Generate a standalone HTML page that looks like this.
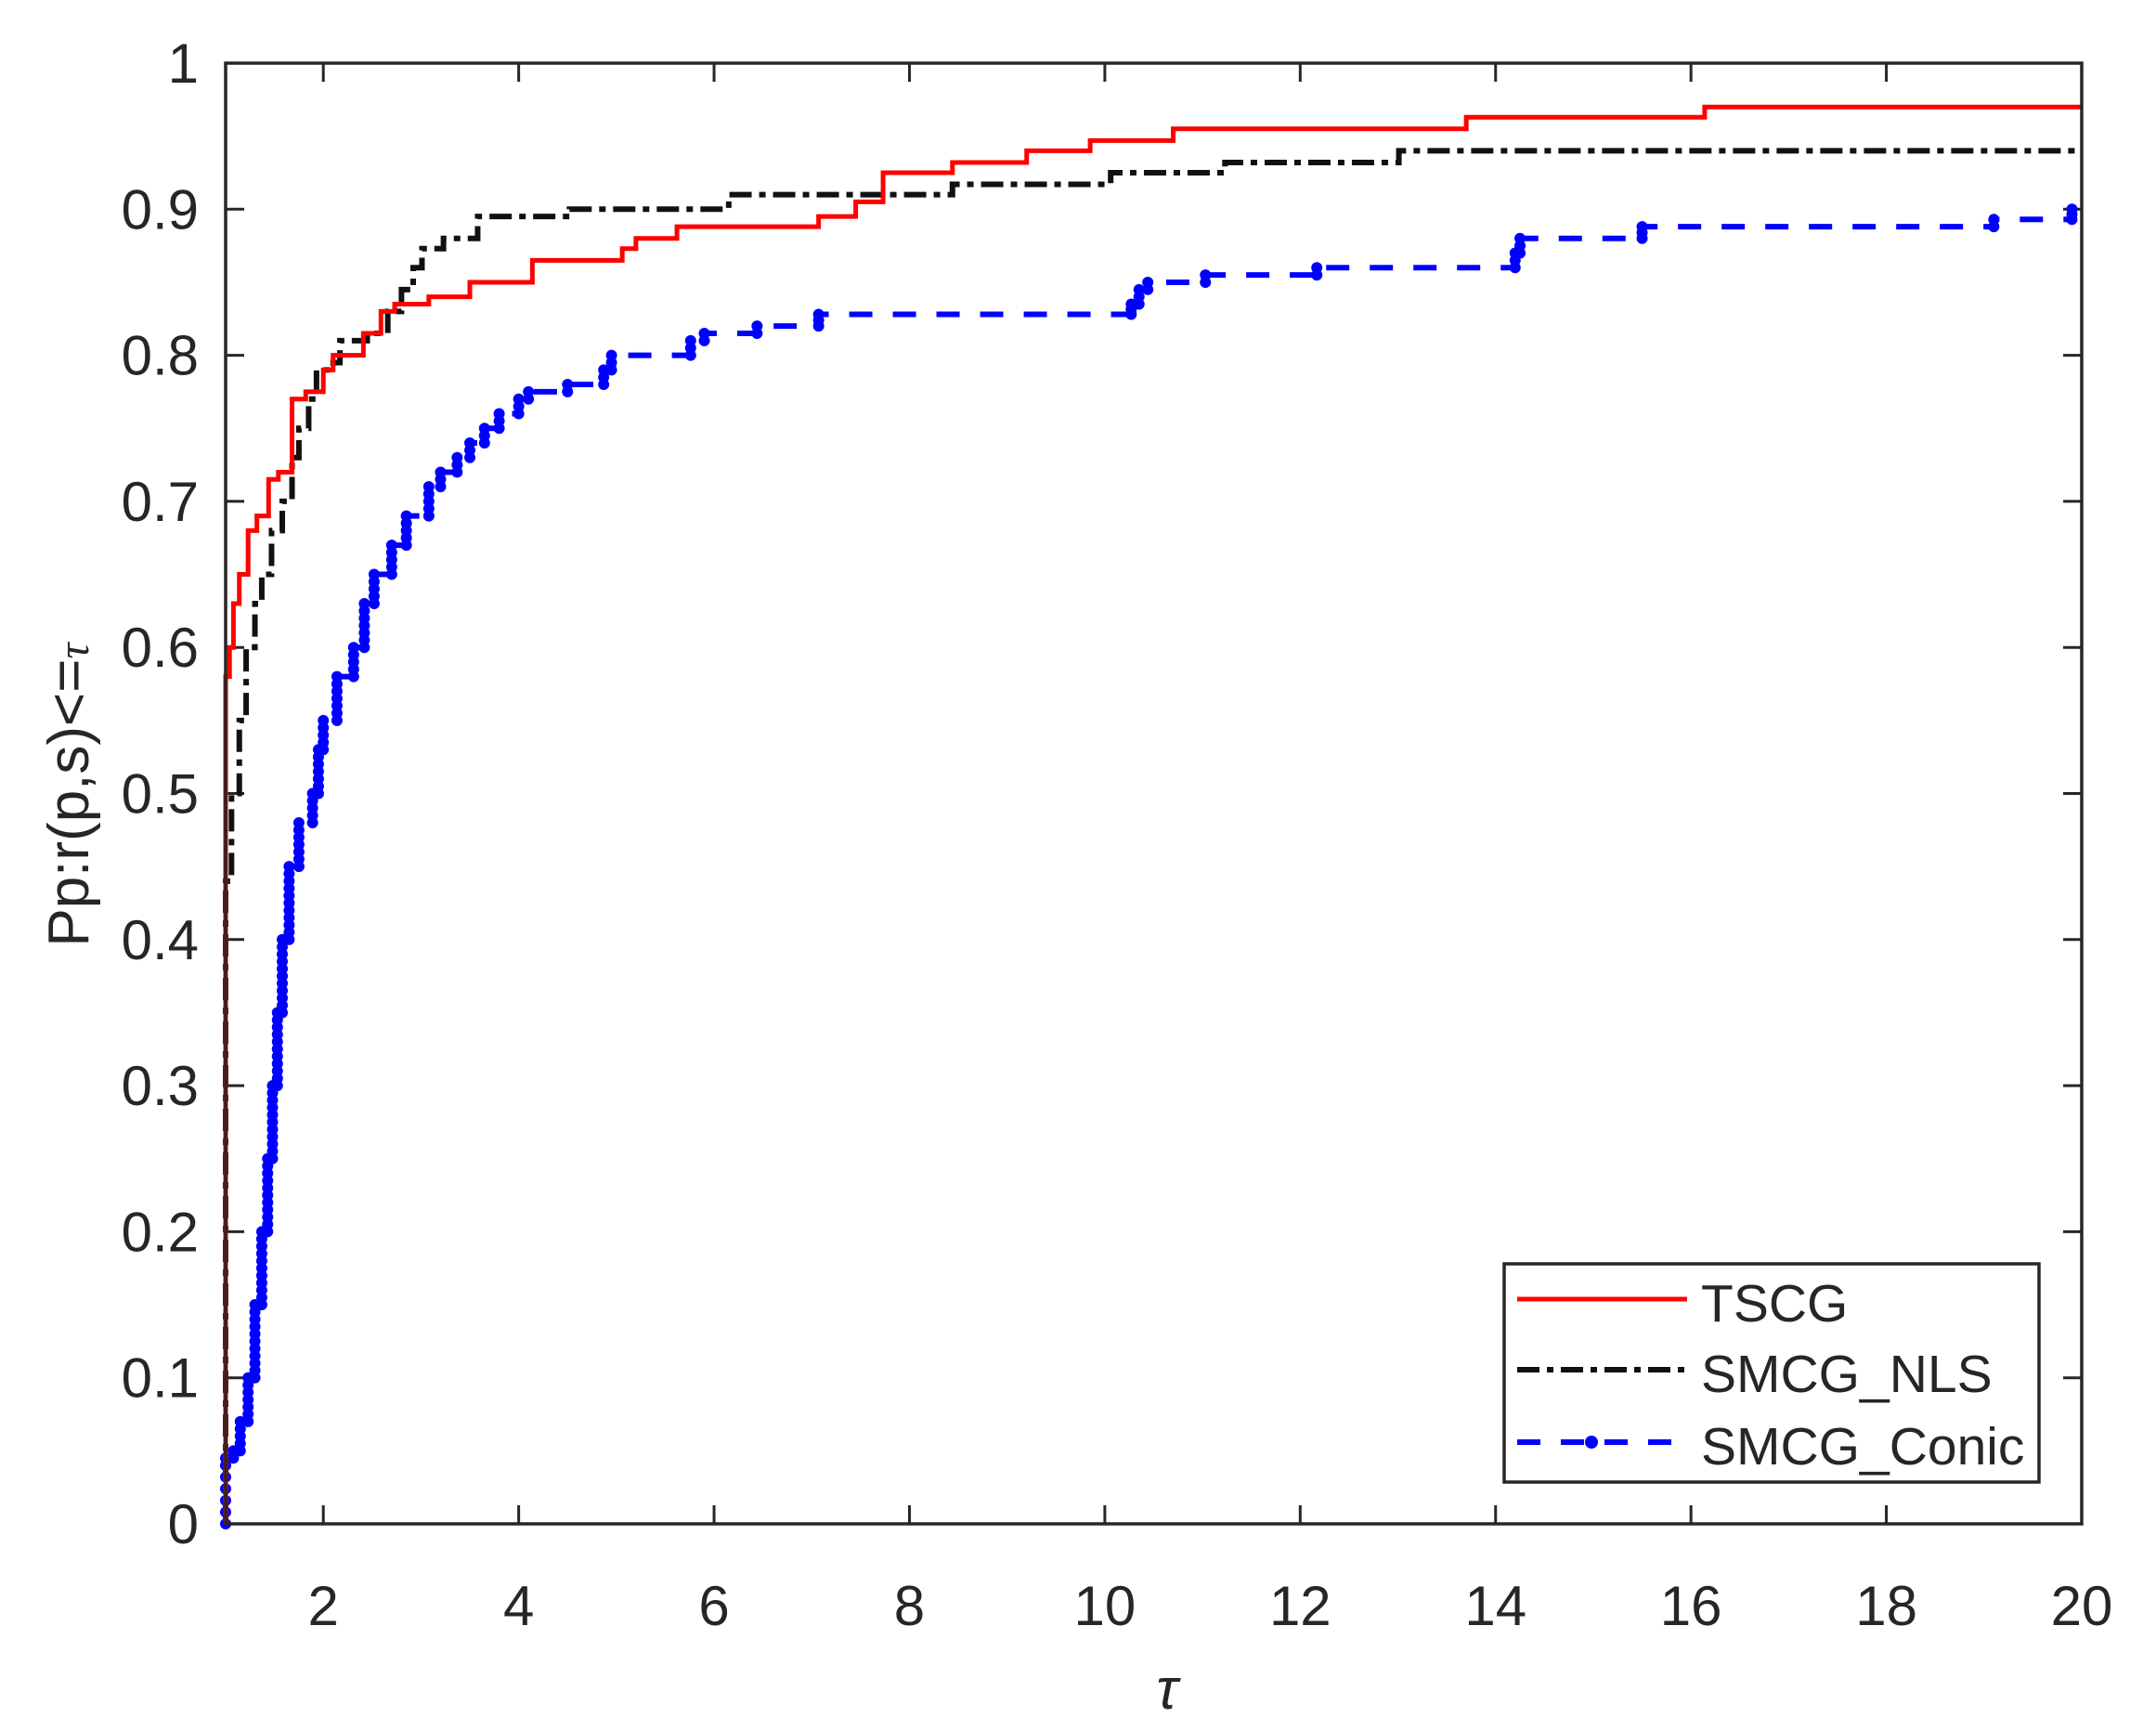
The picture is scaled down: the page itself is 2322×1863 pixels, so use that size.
<!DOCTYPE html>
<html><head><meta charset="utf-8"><style>
html,body{margin:0;padding:0;background:#fff;}
svg{display:block;}
text{font-family:"Liberation Sans",sans-serif;fill:#262626;}
</style></head><body>
<svg id="s" width="2322" height="1863" viewBox="0 0 2322 1863" xmlns="http://www.w3.org/2000/svg">
<rect width="2322" height="1863" fill="#fff"/>
<g id="grid"></g>
<g id="series"></g>
<rect x="243" y="68" width="1999" height="1573" fill="none" stroke="#262626" stroke-width="3.5"/>
<g font-size="60" text-anchor="end" id="yl"></g>
<g font-size="60" text-anchor="middle" id="xl"></g>
<text x="1257" y="1840" font-size="62" font-family="Liberation Serif,serif" font-style="italic" text-anchor="middle">τ</text>
<text transform="translate(95,856) rotate(-90)" font-size="62" text-anchor="middle">Pp:r(p,s)&lt;=<tspan font-family="Liberation Serif,serif" font-style="italic" font-size="48">τ</tspan></text>
<g transform="translate(-18,-12)">
<rect x="1638" y="1373" width="576" height="235" fill="#fff" stroke="#262626" stroke-width="3.5"/>
<line x1="1652" y1="1411" x2="1835" y2="1411" stroke="#f00" stroke-width="5"/>
<line x1="1652" y1="1487" x2="1835" y2="1487" stroke="#111" stroke-width="6" stroke-dasharray="24,8,7,8"/>
<line x1="1652" y1="1565" x2="1835" y2="1565" stroke="#00f" stroke-width="6" stroke-dasharray="25,22"/>
<circle cx="1732" cy="1565" r="7" fill="#00f"/>
<text x="1850" y="1435" font-size="57" fill="#000">TSCG</text>
<text x="1850" y="1511" font-size="57" fill="#000">SMCG_NLS</text>
<text x="1850" y="1589" font-size="57" fill="#000">SMCG_Conic</text>
</g>
</svg>
<script>
const L=243,R=2242,T=68,B=1641;
const X=x=>L+(x-1)*(R-L)/19, Y=y=>B-y*(B-T);
const NS="http://www.w3.org/2000/svg";
function el(p,tag,a,txt){const e=document.createElementNS(NS,tag);for(const k in a)e.setAttribute(k,a[k]);if(txt!==undefined)e.textContent=txt;p.appendChild(e);return e;}
const g=document.getElementById('grid'),yl=document.getElementById('yl'),xl=document.getElementById('xl');
for(let i=0;i<=10;i++){const y=Y(i/10);
 el(g,'line',{x1:L,y1:y,x2:L+20,y2:y,stroke:'#262626','stroke-width':3});
 el(g,'line',{x1:R,y1:y,x2:R-20,y2:y,stroke:'#262626','stroke-width':3});
 el(yl,'text',{x:214,y:y+21},i==0?'0':i==10?'1':(i/10).toFixed(1));}
for(let v=2;v<=20;v+=2){const x=X(v);
 el(g,'line',{x1:x,y1:B,x2:x,y2:B-20,stroke:'#262626','stroke-width':3});
 el(g,'line',{x1:x,y1:T,x2:x,y2:T+20,stroke:'#262626','stroke-width':3});
 el(xl,'text',{x:x,y:1750},String(v));}
function path(pts,y0){let d='M'+X(1)+' '+Y(y0);for(const [x,y] of pts){d+=' H'+X(x)+' V'+Y(y);}d+=' H'+X(20);return d;}
const blue=[[1,0.045],[1.08,0.05],[1.15,0.07],[1.23,0.1],[1.3,0.15],[1.37,0.2],[1.43,0.25],[1.48,0.3],[1.53,0.35],[1.58,0.4],[1.65,0.45],[1.75,0.48],[1.89,0.5],[1.95,0.53],[2.0,0.55],[2.14,0.58],[2.31,0.6],[2.42,0.63],[2.52,0.65],[2.7,0.67],[2.85,0.69],[3.08,0.71],[3.2,0.72],[3.37,0.73],[3.5,0.74],[3.65,0.75],[3.8,0.76],[4.0,0.77],[4.1,0.775],[4.5,0.78],[4.87,0.79],[4.95,0.8],[5.76,0.81],[5.9,0.815],[6.44,0.82],[7.07,0.828],[10.27,0.835],[10.35,0.845],[10.44,0.85],[11.03,0.855],[12.17,0.86],[14.2,0.87],[14.25,0.88],[15.5,0.888],[19.1,0.893],[19.9,0.9]];
const red=[[1,0.58],[1.04,0.6],[1.08,0.63],[1.14,0.65],[1.23,0.68],[1.32,0.69],[1.44,0.715],[1.54,0.72],[1.68,0.77],[1.82,0.775],[2.0,0.79],[2.1,0.8],[2.41,0.815],[2.59,0.83],[2.73,0.835],[3.08,0.84],[3.5,0.85],[4.14,0.865],[5.06,0.873],[5.2,0.88],[5.62,0.888],[7.07,0.895],[7.45,0.905],[7.73,0.925],[8.44,0.932],[9.2,0.94],[9.85,0.947],[10.7,0.955],[13.7,0.963],[16.14,0.97]];
const blk=[[1,0.44],[1.06,0.5],[1.14,0.55],[1.21,0.6],[1.3,0.63],[1.37,0.65],[1.47,0.68],[1.58,0.7],[1.68,0.73],[1.75,0.75],[1.85,0.77],[1.93,0.79],[2.1,0.795],[2.17,0.81],[2.45,0.815],[2.66,0.83],[2.8,0.845],[2.92,0.86],[3.01,0.873],[3.23,0.88],[3.58,0.895],[4.52,0.9],[6.15,0.91],[8.44,0.917],[10.06,0.925],[11.23,0.932],[13.01,0.94]];
const s=document.getElementById('series');
el(s,'path',{d:path(blue,0),fill:'none',stroke:'#00f','stroke-width':6,'stroke-dasharray':'25,22'});
for(const [x,y] of blue){el(s,'circle',{cx:X(x),cy:Y(y),r:6,fill:'#00f'});}
for(let y=0;y<0.045;y+=0.008)el(s,'circle',{cx:X(1),cy:Y(y),r:6,fill:'#00f'});
for(let i=0;i<blue.length-1;i++){const [x1,y1]=blue[i],[x2,y2]=blue[i+1];const n=Math.ceil((Y(y1)-Y(y2))/8);for(let k=0;k<n;k++)el(s,'circle',{cx:X(x2),cy:Y(y1+(y2-y1)*k/n),r:6,fill:'#00f'});}
el(s,'path',{d:path(blk,0),fill:'none',stroke:'#111','stroke-width':6,'stroke-dasharray':'24,8,7,8'});
el(s,'path',{d:path(red,0),fill:'none',stroke:'#f00','stroke-width':5});
</script>
</body></html>
